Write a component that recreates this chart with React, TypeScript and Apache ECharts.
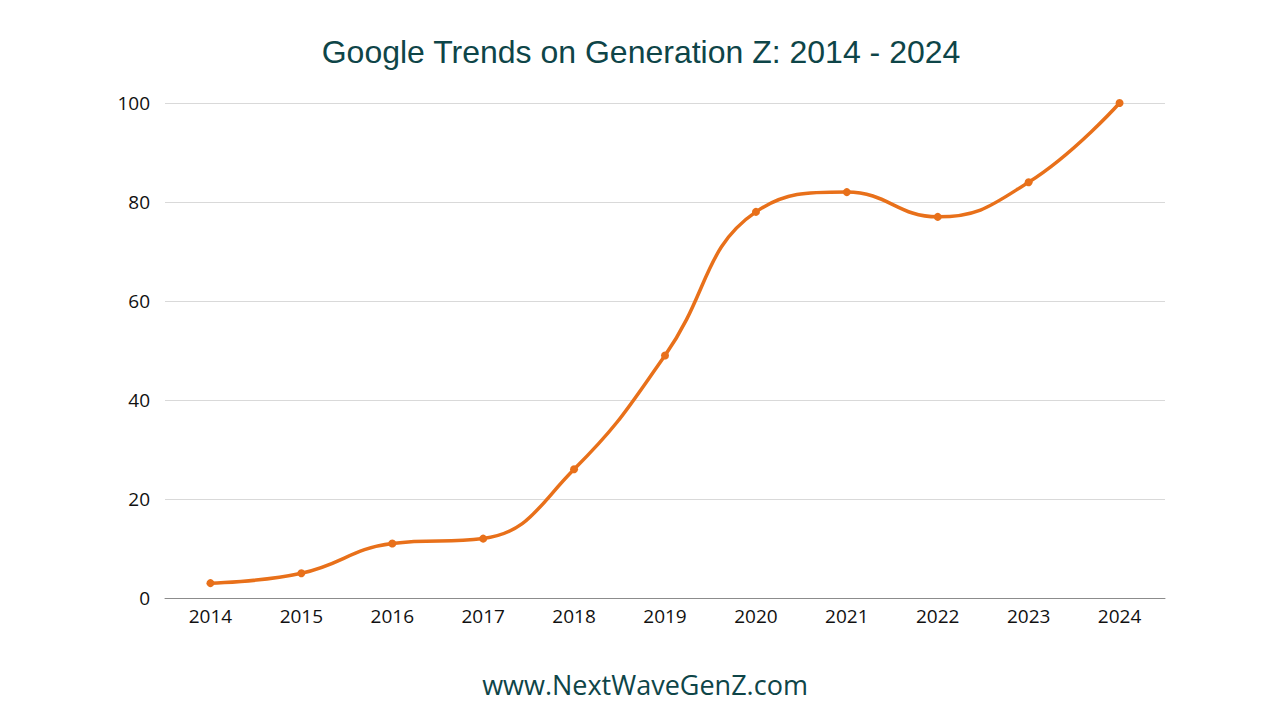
import React, { useEffect, useRef } from "react";
import * as echarts from "echarts";

const years = ["2014", "2015", "2016", "2017", "2018", "2019", "2020", "2021", "2022", "2023", "2024"];
const interest = [3, 5, 11, 12, 26, 49, 78, 82, 77, 84, 100];
const titleText = "Google Trends on Generation Z: 2014 - 2024";
const footerText = "www.NextWaveGenZ.com";

export default function App() {
  const ref = useRef<HTMLDivElement>(null);
  useEffect(() => {
    document.body.style.margin = "0";
    const chart = echarts.init(ref.current!, null, { renderer: "svg" });
    chart.setOption({
      animation: false,
      backgroundColor: "#ffffff",
      title: [
        {
          text: titleText,
          left: 636,
          textAlign: "center",
          top: 31,
          textStyle: { fontFamily: "Liberation Sans", fontSize: 32, fontWeight: "normal", color: "#0e4548" },
        },
        {
          text: footerText,
          left: 640,
          textAlign: "center",
          top: 666,
          textStyle: { fontFamily: "Open Sans", fontSize: 27, fontWeight: "normal", color: "#0e4548" },
        },
      ],
      grid: { left: 165, right: 115, top: 103, bottom: 122, containLabel: false },
      xAxis: {
        type: "category",
        data: years,
        boundaryGap: true,
        axisLine: { show: true, lineStyle: { color: "#8c8c8c", width: 1 } },
        axisTick: { show: false },
        axisLabel: { fontFamily: "Open Sans", fontSize: 19, color: "#111111", margin: 8 },
      },
      yAxis: {
        type: "value",
        min: 0,
        max: 100,
        interval: 20,
        axisLine: { show: false },
        axisTick: { show: false },
        splitLine: { lineStyle: { color: "#d9d9d9", width: 1 } },
        axisLabel: { fontFamily: "Open Sans", fontSize: 19, color: "#111111", margin: 15 },
      },
      series: [
        {
          type: "line",
          data: interest,
          smooth: 0.45,
          symbol: "circle",
          symbolSize: 8,
          lineStyle: { color: "#e8701a", width: 3.5 },
          itemStyle: { color: "#e8701a" },
        },
      ],
    });
    return () => chart.dispose();
  }, []);
  return <div ref={ref} style={{ width: 1280, height: 720, position: "absolute", left: 0, top: 0 }} />;
}
